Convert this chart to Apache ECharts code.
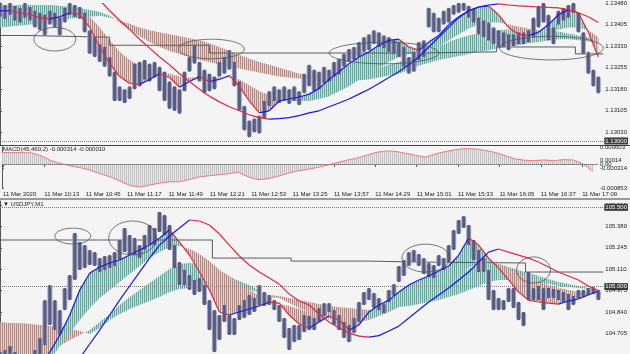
<!DOCTYPE html>
<html>
<head>
<meta charset="utf-8">
<script src="https://cdn.jsdelivr.net/npm/echarts@6/dist/echarts.min.js"></script>
<style>
html, body { margin: 0; padding: 0; background: #f4f4f4; }
#chart { width: 630px; height: 354px; }
</style>
</head>
<body>
<div id="chart"></div>
<script>
// ---- EURUSD M1 (top window): bar high / low, one sample per 5 px ----
var topHigh = [
  1.13480,1.13473,1.13480,1.13470,1.13463,1.13480,1.13466,1.13453,1.13446,1.13439,
  1.13453,1.13446,1.13429,1.13463,1.13480,1.13473,1.13466,1.13446,1.13385,1.13361,
  1.13337,1.13327,1.13292,1.13241,1.13190,1.13180,1.13190,1.13269,1.13275,1.13282,
  1.13269,1.13275,1.13258,1.13241,1.13207,1.13190,1.13180,1.13241,1.13292,1.13333,
  1.13275,1.13248,1.13234,1.13224,1.13275,1.13292,1.13316,1.13275,1.13207,1.13122,
  1.13071,1.13078,1.13088,1.13139,1.13173,1.13190,1.13180,1.13190,1.13180,1.13190,
  1.13173,1.13234,1.13265,1.13248,1.13241,1.13258,1.13248,1.13275,1.13286,1.13303,
  1.13320,1.13327,1.13344,1.13361,1.13371,1.13385,1.13378,1.13367,1.13361,1.13350,
  1.13344,1.13327,1.13292,1.13310,1.13344,1.13350,1.13463,1.13446,1.13429,1.13453,
  1.13463,1.13473,1.13480,1.13480,1.13470,1.13460,1.13429,1.13419,1.13412,1.13395,
  1.13385,1.13378,1.13371,1.13371,1.13378,1.13378,1.13385,1.13429,1.13470,1.13480,
  1.13439,1.13395,1.13453,1.13463,1.13473,1.13480,1.13446,1.13378,1.13310,1.13248,
  1.13224];
var topLow = [
  1.13432,1.13425,1.13439,1.13419,1.13412,1.13429,1.13419,1.13395,1.13385,1.13367,
  1.13405,1.13395,1.13367,1.13412,1.13439,1.13432,1.13425,1.13378,1.13303,1.13292,
  1.13275,1.13258,1.13224,1.13139,1.13139,1.13132,1.13146,1.13180,1.13190,1.13214,
  1.13207,1.13221,1.13173,1.13139,1.13112,1.13105,1.13095,1.13173,1.13241,1.13269,
  1.13207,1.13166,1.13173,1.13180,1.13224,1.13234,1.13248,1.13190,1.13105,1.13037,
  1.13013,1.13030,1.13026,1.13078,1.13122,1.13139,1.13132,1.13139,1.13129,1.13139,
  1.13125,1.13166,1.13190,1.13173,1.13180,1.13200,1.13207,1.13224,1.13231,1.13258,
  1.13275,1.13282,1.13292,1.13310,1.13316,1.13337,1.13327,1.13323,1.13310,1.13303,
  1.13292,1.13258,1.13234,1.13241,1.13282,1.13292,1.13395,1.13378,1.13378,1.13405,
  1.13412,1.13439,1.13446,1.13453,1.13429,1.13412,1.13371,1.13361,1.13350,1.13337,
  1.13327,1.13327,1.13316,1.13330,1.13337,1.13337,1.13344,1.13361,1.13395,1.13412,
  1.13350,1.13337,1.13405,1.13419,1.13429,1.13446,1.13378,1.13303,1.13234,1.13190,
  1.13166];
// moving averages, one sample per 10 px
var topMaFast = [
  1.13453,1.13453,1.13446,1.13439,1.13429,1.13425,1.13432,1.13446,1.13439,1.13395,
  1.13327,1.13269,1.13224,1.13200,1.13197,1.13214,1.13234,1.13221,1.13187,1.13207,
  1.13224,1.13207,1.13214,1.13228,1.13190,1.13139,1.13098,1.13105,1.13139,1.13146,
  1.13153,1.13163,1.13183,1.13214,1.13241,1.13269,1.13292,1.13310,1.13333,1.13350,
  1.13354,1.13327,1.13316,1.13344,1.13367,1.13405,1.13432,1.13453,1.13466,1.13470,
  1.13439,1.13395,1.13371,1.13367,1.13378,1.13405,1.13439,1.13456,1.13446,1.13378,
  1.13292];
var topMaFast2 = [
  1.13446,1.13446,1.13442,1.13439,1.13436,1.13436,1.13439,1.13442,1.13446,1.13432,
  1.13395,1.13350,1.13310,1.13282,1.13262,1.13248,1.13241,1.13234,1.13224,1.13221,
  1.13221,1.13221,1.13221,1.13221,1.13214,1.13194,1.13173,1.13159,1.13149,1.13142,
  1.13139,1.13139,1.13146,1.13156,1.13173,1.13190,1.13214,1.13234,1.13255,1.13275,
  1.13292,1.13303,1.13310,1.13316,1.13330,1.13350,1.13371,1.13391,1.13405,1.13412,
  1.13412,1.13405,1.13398,1.13391,1.13385,1.13385,1.13388,1.13395,1.13395,1.13385,
  1.13361];
var topMaSlow = [
  1.13685,1.13671,1.13657,1.13640,1.13623,1.13606,1.13589,1.13569,1.13548,1.13521,
  1.13490,1.13453,1.13419,1.13388,1.13354,1.13323,1.13292,1.13265,1.13234,1.13207,
  1.13180,1.13156,1.13136,1.13119,1.13105,1.13091,1.13081,1.13076,1.13078,1.13081,
  1.13088,1.13098,1.13105,1.13119,1.13132,1.13146,1.13163,1.13180,1.13200,1.13221,
  1.13241,1.13265,1.13292,1.13327,1.13361,1.13395,1.13429,1.13453,1.13466,1.13473,
  1.13477,1.13473,1.13470,1.13468,1.13466,1.13465,1.13463,1.13456,1.13446,1.13432,
  1.13412];
var topBandA = [
  1.13470,1.13470,1.13473,1.13473,1.13473,1.13473,1.13470,1.13466,1.13463,1.13456,
  1.13449,1.13436,1.13412,1.13388,1.13364,1.13344,1.13327,1.13313,1.13303,1.13292,
  1.13282,1.13275,1.13265,1.13258,1.13252,1.13245,1.13238,1.13231,1.13224,1.13221,
  1.13217,1.13217,1.13217,1.13221,1.13224,1.13231,1.13238,1.13248,1.13255,1.13265,
  1.13275,1.13289,1.13303,1.13316,1.13330,1.13344,1.13357,1.13367,1.13374,1.13381,
  1.13385,1.13388,1.13388,1.13388,1.13385,1.13385,1.13381,1.13374,1.13367,1.13361,
  1.13354];
var topBandB = [
  1.13395,1.13398,1.13402,1.13405,1.13408,1.13412,1.13419,1.13425,1.13429,1.13432,
  1.13436,1.13429,1.13419,1.13408,1.13395,1.13385,1.13378,1.13371,1.13364,1.13357,
  1.13350,1.13340,1.13327,1.13313,1.13299,1.13286,1.13275,1.13265,1.13255,1.13245,
  1.13234,1.13228,1.13221,1.13214,1.13211,1.13207,1.13211,1.13214,1.13221,1.13228,
  1.13234,1.13248,1.13262,1.13272,1.13282,1.13289,1.13296,1.13303,1.13310,1.13316,
  1.13323,1.13330,1.13333,1.13340,1.13344,1.13350,1.13354,1.13354,1.13350,1.13347,
  1.13340];
var topLevelStart = [0, 5, 22, 42, 84, 99.6, 115.4, 121];
var topLevelPrice = [1.13367, 1.13361, 1.13333, 1.13306, 1.13310, 1.13327, 1.13303, 1.13303];
var topTicks = [1.13030, 1.13105, 1.13180, 1.13255, 1.13330, 1.13405, 1.13480];
var topMarks = [[11, 1.13354, 4.2, 0.00041], [42.4, 1.13320, 6.6, 0.00034],
                [77, 1.13306, 11, 0.000375], [110.6, 1.13323, 10.4, 0.00041]];

// ---- MACD(45,460,2), one sample per 10 px ----
var macdValues = [
  0.000406,0.000406,0.000406,0.000395,0.000291,0.000118,0.000014,-0.000073,-0.000135,-0.000229,
  -0.000350,-0.000461,-0.000610,-0.000766,-0.000818,-0.000749,-0.000680,-0.000634,-0.000634,-0.000558,
  -0.000461,-0.000420,-0.000385,-0.000350,-0.000288,-0.000461,-0.000558,-0.000524,-0.000437,-0.000333,
  -0.000246,-0.000194,-0.000125,-0.000045,0.000049,0.000135,0.000205,0.000309,0.000413,0.000465,
  0.000447,0.000378,0.000309,0.000239,0.000361,0.000440,0.000510,0.000544,0.000534,0.000489,
  0.000413,0.000309,0.000187,0.000135,0.000118,0.000142,0.000118,0.000153,0.000142,-0.000003,
  -0.000263];
var macdTicks = [0.000603, 0.00014, 0, -0.00014, -0.000853];
var macdTickText = ['0.000603', '0.00014', '0.00', '-0.000314', '-0.000853'];

var timeTicks = [0.2, 8.6, 17, 25.4, 33.8, 42.2, 50.6, 59, 67.4, 75.8, 84.2, 92.6, 101, 109.4, 117.8];
var timeLabels = ['11 Mar 2020', '11 Mar 10:13', '11 Mar 10:45', '11 Mar 11:17', '11 Mar 11:49',
  '11 Mar 12:21', '11 Mar 12:53', '11 Mar 13:25', '11 Mar 13:57', '11 Mar 14:29',
  '11 Mar 15:01', '11 Mar 15:33', '11 Mar 16:05', '11 Mar 16:37', '11 Mar 17:09'];

// ---- USDJPY M1 (bottom window) ----
var botHigh = [
  104.587,104.600,104.625,104.587,104.568,104.562,104.575,104.600,104.676,104.915,
  105.010,104.915,104.852,104.991,105.073,105.338,105.281,105.262,105.231,105.218,
  105.180,105.193,105.199,105.218,105.294,105.370,105.326,105.307,105.262,105.326,
  105.389,105.370,105.471,105.452,105.389,105.262,105.155,105.105,105.073,105.042,
  105.054,105.010,104.915,104.852,104.821,104.884,104.821,104.802,104.884,104.915,
  104.947,104.928,105.010,104.966,104.947,104.915,104.884,104.802,104.739,104.758,
  104.758,104.821,104.815,104.802,104.865,104.896,104.896,104.852,104.821,104.777,
  104.758,104.802,104.903,104.966,104.991,104.960,104.928,104.890,104.979,105.016,
  105.130,105.168,105.218,105.231,105.206,105.180,105.149,105.136,105.199,105.180,
  105.262,105.357,105.420,105.445,105.389,105.294,105.231,105.180,105.105,104.979,
  104.928,104.915,104.991,104.991,104.903,104.840,105.092,104.991,105.004,104.991,
  104.991,104.985,104.979,104.966,104.953,104.941,104.979,104.979,104.991,104.997,
  104.979];
var botLow = [
  104.537,104.537,104.562,104.524,104.505,104.499,104.511,104.524,104.562,104.631,
  104.758,104.726,104.695,104.852,104.915,105.042,105.105,105.117,105.136,105.130,
  105.092,105.105,105.117,105.130,105.168,105.218,105.199,105.199,105.180,105.231,
  105.262,105.262,105.344,105.326,105.231,105.117,105.010,105.010,104.979,104.947,
  104.966,104.884,104.726,104.587,104.663,104.777,104.695,104.695,104.789,104.802,
  104.821,104.840,104.884,104.878,104.884,104.852,104.777,104.676,104.600,104.650,
  104.663,104.713,104.726,104.726,104.777,104.815,104.840,104.758,104.726,104.676,
  104.650,104.707,104.777,104.884,104.915,104.865,104.852,104.833,104.903,104.941,
  105.029,105.067,105.130,105.155,105.130,105.079,105.061,105.054,105.130,105.105,
  105.155,105.231,105.332,105.370,105.262,105.168,105.092,105.092,104.915,104.852,
  104.852,104.852,104.903,104.865,104.789,104.751,104.915,104.915,104.915,104.852,
  104.928,104.928,104.915,104.903,104.852,104.884,104.928,104.934,104.947,104.953,
  104.915];
var botMaFast = [
  104.461,104.474,104.486,104.499,104.524,104.587,104.695,104.821,104.979,105.086,
  105.124,105.149,105.168,105.199,105.231,105.262,105.307,105.357,105.281,105.199,
  105.092,104.979,104.840,104.821,104.840,104.859,104.878,104.903,104.896,104.821,
  104.764,104.739,104.777,104.815,104.789,104.726,104.758,104.840,104.884,104.915,
  104.966,105.010,105.042,105.067,105.098,105.130,105.199,105.307,105.262,105.180,
  105.117,105.042,104.966,104.915,104.903,104.896,104.890,104.909,104.922,104.947,
  104.972];
var botMaFast2 = [
  104.411,104.423,104.436,104.442,104.455,104.537,104.625,104.707,104.789,104.865,
  104.928,104.979,105.029,105.079,105.130,105.180,105.218,105.250,105.256,105.237,
  105.206,105.161,105.105,105.067,105.023,104.979,104.941,104.909,104.890,104.878,
  104.859,104.840,104.827,104.821,104.815,104.802,104.789,104.802,104.821,104.840,
  104.871,104.903,104.941,104.979,105.010,105.042,105.073,105.117,105.149,105.155,
  105.143,105.117,105.086,105.054,105.029,105.010,104.991,104.979,104.966,104.960,
  104.960];
var botMaSlow = [
  103.843,103.931,104.019,104.108,104.196,104.284,104.373,104.461,104.549,104.638,
  104.726,104.821,104.915,105.004,105.092,105.180,105.262,105.319,105.370,105.420,
  105.414,105.389,105.332,105.262,105.193,105.136,105.092,105.054,105.016,104.953,
  104.909,104.884,104.827,104.777,104.739,104.707,104.688,104.682,104.691,104.720,
  104.751,104.802,104.852,104.903,104.947,104.991,105.042,105.092,105.155,105.218,
  105.237,105.218,105.199,105.180,105.155,105.124,105.092,105.067,105.042,105.004,
  104.972];
var botBandA = [
  104.442,104.461,104.486,104.511,104.549,104.587,104.625,104.663,104.695,104.726,
  104.777,104.827,104.884,104.934,104.979,105.023,105.067,105.111,105.143,105.149,
  105.143,105.117,105.092,105.061,105.035,105.010,104.972,104.934,104.928,104.896,
  104.865,104.840,104.815,104.795,104.783,104.777,104.777,104.789,104.815,104.840,
  104.878,104.915,104.953,104.985,105.016,105.048,105.079,105.111,105.136,105.149,
  105.143,105.124,105.105,105.086,105.067,105.048,105.029,105.016,105.004,104.991,
  104.985];
var botBandB = [
  104.777,104.770,104.770,104.764,104.758,104.751,104.745,104.732,104.720,104.701,
  104.739,104.789,104.827,104.859,104.884,104.909,104.934,104.966,104.985,104.991,
  104.997,104.997,104.997,104.997,104.991,104.979,104.966,104.947,104.941,104.928,
  104.915,104.903,104.890,104.878,104.871,104.865,104.859,104.852,104.852,104.859,
  104.871,104.878,104.890,104.903,104.915,104.934,104.953,104.979,105.004,105.029,
  105.042,105.042,105.035,105.029,105.023,105.016,105.004,104.997,104.991,104.985,
  104.979];
var botLevelStart = [0, 42.6, 58.4, 74, 84, 105.4, 121];
var botLevelPrice = [105.294, 105.180, 105.161, 105.155, 105.149, 105.092, 105.092];
var botTicks = [104.705, 104.840, 104.975, 105.110, 105.245, 105.380, 105.515];
var botMarks = [[14.6, 105.319, 3.6, 0.050], [26.6, 105.307, 4.8, 0.107],
                [85.4, 105.180, 4.8, 0.088], [107, 105.105, 3.4, 0.082]];

var FONT = 'Liberation Sans';
var BLUE = '#1818dc', RED = '#e5263f';

function stripes(dark, light) {
  var cv = document.createElement('canvas');
  cv.width = 2; cv.height = 2;
  var ctx = cv.getContext('2d');
  ctx.fillStyle = light; ctx.fillRect(0, 0, 2, 2);
  ctx.fillStyle = dark; ctx.fillRect(0, 0, 1, 2);
  return { image: cv, repeat: 'repeat' };
}
var tealFill = stripes('#5aaa9f', '#bfe0db');
var pinkFill = stripes('#b8857f', '#e6d1ce');
var grayFill = stripes('#c2c2c2', '#e8e8e8');

// MA samples sit on every second bar slot
function bandData(a, b) {
  var d = [];
  for (var k = 0; k < a.length - 1; k++) d.push([2 * k, a[k], b[k], 2 * k + 2, a[k + 1], b[k + 1]]);
  return d;
}
function segData(v) {
  var d = [];
  for (var k = 0; k < v.length - 1; k++) d.push([2 * k, v[k], 2 * k + 2, v[k + 1]]);
  return d;
}
function barData(hi, lo) {
  return hi.map(function (h, i) { return [i, h, lo[i]]; });
}
function levelData(xs, ps) {
  return xs.map(function (x, i) { return [x, ps[i]]; });
}

function renderBand(params, api) {
  var x0 = api.value(0), a0 = api.value(1), b0 = api.value(2);
  var x1 = api.value(3), a1 = api.value(4), b1 = api.value(5);
  var pa0 = api.coord([x0, a0]), pb0 = api.coord([x0, b0]);
  var pa1 = api.coord([x1, a1]), pb1 = api.coord([x1, b1]);
  var d0 = a0 - b0, d1 = a1 - b1;
  var kids = [];
  function poly(pts, up) {
    kids.push({ type: 'polygon', shape: { points: pts }, style: { fill: up ? tealFill : pinkFill } });
  }
  if (d0 * d1 >= 0) {
    poly([pa0, pa1, pb1, pb0], d0 + d1 >= 0);
  } else {
    var t = d0 / (d0 - d1);
    var pc = [pa0[0] + (pa1[0] - pa0[0]) * t, pa0[1] + (pa1[1] - pa0[1]) * t];
    poly([pa0, pc, pb0], d0 > 0);
    poly([pc, pa1, pb1], d1 > 0);
  }
  return { type: 'group', children: kids };
}
function renderSeg(params, api) {
  var p0 = api.coord([api.value(0), api.value(1)]);
  var p1 = api.coord([api.value(2), api.value(3)]);
  return {
    type: 'line',
    shape: { x1: p0[0], y1: p0[1], x2: p1[0], y2: p1[1] },
    style: { stroke: api.value(3) >= api.value(1) ? BLUE : RED, lineWidth: 1.2 }
  };
}
// each sample: light halo filling the 5 px slot with a dark 3 px core
function renderBar(params, api) {
  var hi = api.coord([api.value(0), api.value(1)]);
  var lo = api.coord([api.value(0), api.value(2)]);
  var h = Math.max(1, lo[1] - hi[1]);
  return {
    type: 'group',
    children: [
      { type: 'rect', shape: { x: hi[0] - 2.5, y: hi[1] + 1, width: 5, height: Math.max(1, h - 2) },
        style: { fill: '#a3a6be' } },
      { type: 'rect', shape: { x: hi[0] - 1.5, y: hi[1], width: 3, height: h },
        style: { fill: '#585c80' } }
    ]
  };
}
function renderMark(params, api) {
  var c = api.coord([api.value(0), api.value(1)]);
  var s = api.size([api.value(2), api.value(3)]);
  return {
    type: 'ellipse',
    shape: { cx: c[0], cy: c[1], rx: s[0], ry: s[1] },
    style: { fill: 'none', stroke: '#555', lineWidth: 0.8 }
  };
}

function priceWindow(idx, hi, lo, fast, fast2, slow, bandA, bandB, lvX, lvP, marks, dotted) {
  var ax = { xAxisIndex: idx, yAxisIndex: idx };
  return [
    Object.assign({ type: 'custom', z: 1, clip: true, silent: true, renderItem: renderBand, data: bandData(bandA, bandB) }, ax),
    Object.assign({ type: 'custom', z: 2, clip: true, silent: true, renderItem: renderBand, data: bandData(fast, fast2) }, ax),
    Object.assign({
      type: 'line', z: 3, step: 'end', showSymbol: false, silent: true,
      lineStyle: { color: '#5c5c5c', width: 1 }, data: levelData(lvX, lvP),
      markLine: {
        symbol: 'none', silent: true,
        lineStyle: { type: 'dotted', color: '#777', width: 1 },
        label: {
          position: 'end', distance: 1, fontSize: 6, fontFamily: FONT, color: '#fff',
          backgroundColor: '#3a3a3a', padding: [1, 1, 0, 1],
          formatter: function (p) { return p.value.toFixed(idx === 0 ? 5 : 3); }
        },
        data: dotted.map(function (v) { return { yAxis: v }; })
      }
    }, ax),
    Object.assign({ type: 'custom', z: 4, clip: true, silent: true, renderItem: renderBar, data: barData(hi, lo) }, ax),
    Object.assign({ type: 'custom', z: 5, clip: true, silent: true, renderItem: renderSeg, data: segData(fast) }, ax),
    Object.assign({ type: 'custom', z: 5, clip: true, silent: true, renderItem: renderSeg, data: segData(slow) }, ax),
    Object.assign({ type: 'custom', z: 6, clip: true, silent: true, renderItem: renderMark, data: marks }, ax)
  ];
}

function priceAxis(idx, min, max, ticks, digits) {
  return {
    type: 'value', gridIndex: idx, position: 'right', min: min, max: max, scale: true,
    axisLine: { show: true, lineStyle: { color: '#555' } },
    axisTick: { show: true, length: 2, lineStyle: { color: '#555' }, customValues: ticks },
    axisLabel: {
      fontSize: 6, fontFamily: FONT, color: '#222', margin: 2, customValues: ticks,
      formatter: function (v) { return v.toFixed(digits); }
    },
    splitLine: { show: false }
  };
}
function hiddenX(idx) {
  return { type: 'value', gridIndex: idx, min: 0, max: 121, show: false };
}

var chart = echarts.init(document.getElementById('chart'), null, { renderer: 'canvas' });
var series = []
  .concat(priceWindow(0, topHigh, topLow, topMaFast, topMaFast2, topMaSlow, topBandA, topBandB,
                      topLevelStart, topLevelPrice, topMarks, [1.13000]))
  .concat(priceWindow(2, botHigh, botLow, botMaFast, botMaFast2, botMaSlow, botBandA, botBandB,
                      botLevelStart, botLevelPrice, botMarks, [105.500, 105.000]));
series.push({
  type: 'line', xAxisIndex: 1, yAxisIndex: 1, z: 3, showSymbol: false, silent: true,
  data: macdValues.map(function (v, k) { return [2 * k, v]; }),
  lineStyle: { color: '#ef7a7a', width: 1 },
  areaStyle: { color: grayFill, opacity: 1 },
  markLine: {
    symbol: 'none', silent: true, label: { show: false },
    data: [
      { yAxis: 0.00014, lineStyle: { type: 'dotted', color: '#777', width: 1 } },
      { yAxis: 0, lineStyle: { type: 'solid', color: '#999', width: 1 } },
      { yAxis: -0.00014, lineStyle: { type: 'dotted', color: '#777', width: 1 } }
    ]
  }
});

chart.setOption({
  backgroundColor: '#f4f4f4',
  animation: false,
  title: [
    { text: 'MACD(45,460,2) -0.000314 -0.000010', left: 3, top: 146, padding: 0,
      textStyle: { fontSize: 6, fontWeight: 'normal', color: '#222', fontFamily: FONT } },
    { text: '\u25BC USDJPY,M1', left: 3, top: 201, padding: 0,
      textStyle: { fontSize: 6, fontWeight: 'normal', color: '#222', fontFamily: FONT } }
  ],
  grid: [
    { left: 0, top: 0, width: 605, height: 145 },
    { left: 0, top: 147, width: 605, height: 41 },
    { left: 0, top: 201, width: 605, height: 153 }
  ],
  xAxis: [
    hiddenX(0),
    {
      type: 'value', gridIndex: 1, min: 0, max: 121,
      axisLine: { show: true, lineStyle: { color: '#888' } },
      axisTick: { show: true, length: 3, lineStyle: { color: '#555' }, customValues: timeTicks },
      axisLabel: {
        fontSize: 6, fontFamily: FONT, color: '#222', margin: 3, align: 'left',
        customValues: timeTicks,
        formatter: function (v) {
          var i = timeTicks.indexOf(v);
          return i < 0 ? '' : timeLabels[i];
        }
      },
      splitLine: { show: false }
    },
    hiddenX(2)
  ],
  yAxis: [
    priceAxis(0, 1.12986, 1.13480, topTicks, 5),
    {
      type: 'value', gridIndex: 1, position: 'right', min: -0.000853, max: 0.000603,
      axisLine: { show: true, lineStyle: { color: '#555' } },
      axisTick: { show: true, length: 2, lineStyle: { color: '#555' }, customValues: macdTicks },
      axisLabel: {
        fontSize: 6, fontFamily: FONT, color: '#222', margin: 2, customValues: macdTicks,
        formatter: function (v) {
          var i = macdTicks.indexOf(v);
          return i < 0 ? '' : macdTickText[i];
        }
      },
      splitLine: { show: false }
    },
    priceAxis(2, 104.575, 105.540, botTicks, 3)
  ],
  graphic: [
    { type: 'rect', silent: true, shape: { x: 0, y: 145, width: 630, height: 1 }, style: { fill: '#444' } },
    { type: 'rect', silent: true, shape: { x: 0, y: 198, width: 630, height: 2 }, style: { fill: '#9a9a9a' } }
  ],
  series: series
});
</script>
</body>
</html>
